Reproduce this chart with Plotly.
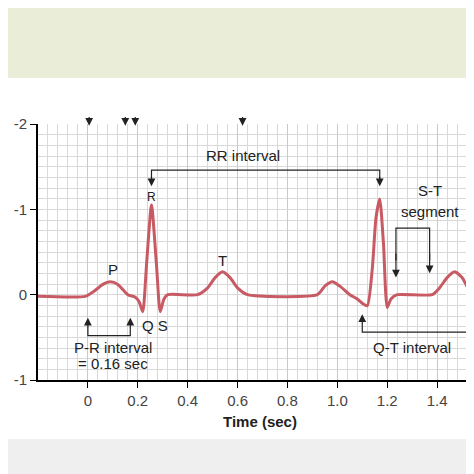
import plotly.graph_objects as go

# ECG trace (time in sec, amplitude)
ecg_t = [-0.2, -0.01, 0.02, 0.06, 0.09, 0.12, 0.16, 0.19, 0.205, 0.22, 0.235, 0.255, 0.275, 0.29, 0.305, 0.32,
         0.44, 0.48, 0.51, 0.54, 0.57, 0.6, 0.64, 0.92, 0.95, 0.98, 1.01, 1.05, 1.08, 1.1, 1.12, 1.14, 1.155,
         1.17, 1.185, 1.2, 1.215, 1.24, 1.38, 1.41, 1.44, 1.47, 1.5, 1.53, 1.56, 1.58]
ecg_v = [-0.02, -0.02, 0.03, 0.12, 0.15, 0.12, 0.0, -0.03, -0.08, -0.2, 0.35, 1.05, 0.35, -0.2, -0.05, 0.0,
         0.0, 0.08, 0.2, 0.27, 0.2, 0.08, 0.0, 0.0, 0.1, 0.15, 0.1, 0.0, -0.05, -0.1, -0.13, 0.3, 0.9,
         1.12, 0.6, -0.15, -0.05, 0.0, 0.0, 0.08, 0.2, 0.27, 0.2, 0.05, 0.0, 0.0]

x_ticks = [0, 0.2, 0.4, 0.6, 0.8, 1.0, 1.2, 1.4]
x_labels = ["0", "0.2", "0.4", "0.6", "0.8", "1.0", "1.2", "1.4"]
y_ticks = [2, 1, 0, -1]
y_labels = ["-2", "-1", "0", "-1"]

ink = "#222222"
fig = go.Figure()
fig.add_trace(go.Scatter(x=ecg_t, y=ecg_v, mode="lines", line=dict(color="#c85a64", width=3, shape="spline", smoothing=0.6),
                         hoverinfo="skip", cliponaxis=False))

shapes = [
    dict(type="rect", xref="paper", yref="paper", x0=-0.1, x1=1.1, y0=1.18, y1=1.47, fillcolor="#eaeed9",
         line_width=0, layer="below"),
    dict(type="rect", xref="paper", yref="paper", x0=-0.1, x1=1.1, y0=-0.42, y1=-0.23, fillcolor="#efefef",
         line_width=0, layer="below"),
]
def bracket(x0, x1, y_tip, y_bar):
    shapes.append(dict(type="path", xref="x", yref="y", path=f"M{x0},{y_tip} L{x0},{y_bar} L{x1},{y_bar} L{x1},{y_tip}",
                       line=dict(color=ink, width=1.2)))

annotations = []
def arrow(x, y_tip, y_tail):
    annotations.append(dict(x=x, y=y_tip, ax=x, ay=y_tail, xref="x", yref="y", axref="x", ayref="y", text="",
                            showarrow=True, arrowhead=2, arrowsize=1.3, arrowwidth=1.2, arrowcolor=ink))

def label(x, y, t, size=15):
    annotations.append(dict(x=x, y=y, xref="x", yref="y", text=t, showarrow=False,
                            font=dict(size=size, color=ink, family="Liberation Sans")))

# Atria / Ventricles
bracket(0.005, 0.15, 2.08, 2.18); arrow(0.005, 1.98, 2.1); arrow(0.15, 1.98, 2.1)
bracket(0.19, 0.62, 2.08, 2.18); arrow(0.19, 1.98, 2.1); arrow(0.62, 1.98, 2.1)
label(0.07, 2.35, "Atria"); label(0.38, 2.35, "Ventricles")
# RR
bracket(0.255, 1.17, 1.35, 1.46); arrow(0.255, 1.27, 1.4); arrow(1.17, 1.27, 1.4)
label(0.62, 1.63, "RR interval")
label(0.255, 1.15, "R", 12)
# S-T segment
bracket(1.235, 1.37, 0.4, 0.78); arrow(1.235, 0.2, 0.5); arrow(1.37, 0.25, 0.5)
label(1.37, 1.22, "S-T"); label(1.37, 0.97, "segment")
label(0.1, 0.29, "P"); label(0.54, 0.4, "T"); label(0.27, -0.36, "Q S")
# P-R
bracket(0.0, 0.17, -0.38, -0.48); arrow(0.0, -0.27, -0.4); arrow(0.17, -0.27, -0.4)
label(0.1, -0.62, "P-R interval"); label(0.1, -0.81, "= 0.16 sec")
# Q-T
bracket(1.1, 1.55, -0.34, -0.44); arrow(1.1, -0.23, -0.36); arrow(1.55, -0.23, -0.36)
label(1.3, -0.62, "Q-T interval")

fig.update_layout(
    width=474, height=474, margin=dict(l=30, r=0, t=116, b=102),
    paper_bgcolor="white", plot_bgcolor="white", showlegend=False,
    shapes=shapes, annotations=annotations,
    font=dict(family="Liberation Sans", color=ink),
    xaxis=dict(range=[-0.2, 1.58], tickvals=x_ticks, ticktext=x_labels, tickfont=dict(size=15, color="#444"),
               showline=True, linecolor="black", linewidth=2, ticks="outside", ticklen=6, tickcolor="black",
               showgrid=True, gridcolor="#c9c9c9", dtick=0.2, zeroline=False,
               minor=dict(dtick=0.04, showgrid=True, gridcolor="#d9d9d9"),
               title=dict(text="<b>Time (sec)</b>", font=dict(size=15, color=ink), standoff=8)),
    yaxis=dict(range=[-1, 2], tickvals=y_ticks, ticktext=y_labels, tickfont=dict(size=15, color="#444"),
               showline=True, linecolor="black", linewidth=2, ticks="outside", ticklen=6, tickcolor="black",
               showgrid=True, gridcolor="#d9d9d9", zeroline=False,
               minor=dict(dtick=0.125, showgrid=True, gridcolor="#d9d9d9")),
)
fig.write_html("out.html")
